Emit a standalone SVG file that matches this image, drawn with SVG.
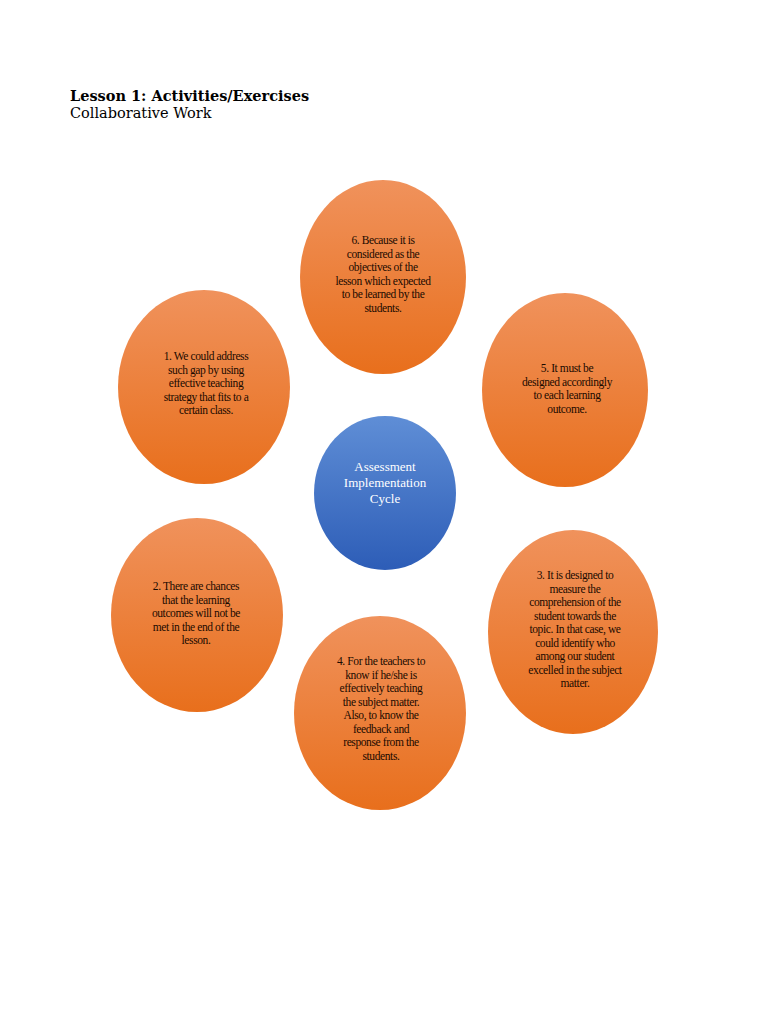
<svg xmlns="http://www.w3.org/2000/svg" width="768" height="1024" viewBox="0 0 768 1024">
<defs>
<linearGradient id="og" x1="0" y1="0" x2="0" y2="1"><stop offset="0" stop-color="#f0925c"/><stop offset="1" stop-color="#e86f1c"/></linearGradient>
<linearGradient id="bg" x1="0" y1="0" x2="0" y2="1"><stop offset="0" stop-color="#5f8ed6"/><stop offset="1" stop-color="#2d5db7"/></linearGradient>
<style>
.o{fill:url(#og)}
.t{font-family:"Liberation Serif",serif;font-size:11.5px;fill:#1a0a00;text-anchor:middle;letter-spacing:-0.4px}
.c{font-family:"Liberation Serif",serif;font-size:13px;fill:#fff;text-anchor:middle}
.h{font-family:"DejaVu Serif",serif;font-size:14.5px;fill:#000}
</style>
</defs>
<rect width="768" height="1024" fill="#fff"/>
<text class="h" x="70" y="101" font-weight="bold">Lesson 1: Activities/Exercises</text>
<text class="h" x="70" y="118">Collaborative Work</text>
<g id="connectors"/>
<g id="n6"><ellipse class="o" cx="383" cy="277" rx="83" ry="97"/>
<text class="t" x="383" y="244">6. Because it is<tspan x="383" dy="13.5">considered as the</tspan><tspan x="383" dy="13.5">objectives of the</tspan><tspan x="383" dy="13.5">lesson which expected</tspan><tspan x="383" dy="13.5">to be learned by the</tspan><tspan x="383" dy="13.5">students.</tspan></text></g>
<g id="n1"><ellipse class="o" cx="204" cy="387" rx="86" ry="97"/>
<text class="t" x="206" y="360">1. We could address<tspan x="206" dy="13.5">such gap by using</tspan><tspan x="206" dy="13.5">effective teaching</tspan><tspan x="206" dy="13.5">strategy that fits to a</tspan><tspan x="206" dy="13.5">certain class.</tspan></text></g>
<g id="n5"><ellipse class="o" cx="565" cy="390" rx="83" ry="97"/>
<text class="t" x="567" y="372">5. It must be<tspan x="567" dy="13.5">designed accordingly</tspan><tspan x="567" dy="13.5">to each learning</tspan><tspan x="567" dy="13.5">outcome.</tspan></text></g>
<g id="center"><ellipse cx="385" cy="493" rx="71" ry="77" fill="url(#bg)"/>
<text class="c" x="385" y="471">Assessment<tspan x="385" dy="16">Implementation</tspan><tspan x="385" dy="16">Cycle</tspan></text></g>
<g id="n2"><ellipse class="o" cx="197" cy="615" rx="86" ry="97"/>
<text class="t" x="196" y="590">2. There are chances<tspan x="196" dy="13.5">that the learning</tspan><tspan x="196" dy="13.5">outcomes will not be</tspan><tspan x="196" dy="13.5">met in the end of the</tspan><tspan x="196" dy="13.5">lesson.</tspan></text></g>
<g id="n3"><ellipse class="o" cx="573" cy="632" rx="85" ry="102"/>
<text class="t" x="575" y="579">3. It is designed to<tspan x="575" dy="13.5">measure the</tspan><tspan x="575" dy="13.5">comprehension of the</tspan><tspan x="575" dy="13.5">student towards the</tspan><tspan x="575" dy="13.5">topic. In that case, we</tspan><tspan x="575" dy="13.5">could identify who</tspan><tspan x="575" dy="13.5">among our student</tspan><tspan x="575" dy="13.5">excelled in the subject</tspan><tspan x="575" dy="13.5">matter.</tspan></text></g>
<g id="n4"><ellipse class="o" cx="380" cy="713" rx="86" ry="97"/>
<text class="t" x="381" y="665">4. For the teachers to<tspan x="381" dy="13.5">know if he/she is</tspan><tspan x="381" dy="13.5">effectively teaching</tspan><tspan x="381" dy="13.5">the subject matter.</tspan><tspan x="381" dy="13.5">Also, to know the</tspan><tspan x="381" dy="13.5">feedback and</tspan><tspan x="381" dy="13.5">response from the</tspan><tspan x="381" dy="13.5">students.</tspan></text></g>
</svg>
